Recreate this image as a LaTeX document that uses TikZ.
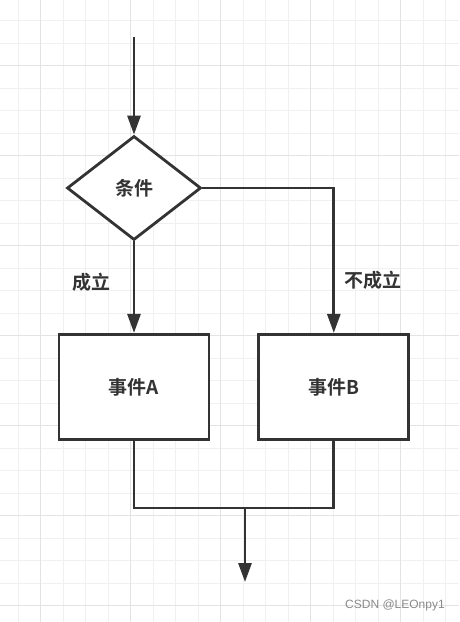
\documentclass[tikz,border=0pt]{standalone}
\usepackage{fontspec}
\setmainfont{Noto Sans CJK SC}[BoldFont={Noto Sans CJK SC Bold}]
\newfontfamily\markfont{Liberation Sans}
\usetikzlibrary{shapes.geometric, arrows.meta, positioning}

\definecolor{ink}{HTML}{333333}
\definecolor{minorline}{HTML}{F0F0F0}
\definecolor{majorline}{HTML}{E3E3E3}
\definecolor{markgray}{HTML}{8A8A8A}

\tikzset{
	decision/.style={diamond, draw=ink, line width=2.8pt, fill=white, aspect=1.29,
		minimum width=134pt, minimum height=104pt, inner sep=0pt,
		text=ink, font=\fontsize{19}{22}\selectfont\bfseries},
	event/.style={rectangle, draw=ink, line width=2.8pt, fill=white,
		minimum width=150pt, minimum height=105pt, inner sep=0pt,
		text=ink, font=\fontsize{19}{22}\selectfont\bfseries},
	line/.style={draw=ink, line width=2.8pt},
	flow/.style={line, -{Triangle[length=19pt, width=13pt]}},
	tag/.style={text=ink, font=\fontsize{19}{22}\selectfont\bfseries, inner sep=0pt}
}

\begin{document}
\begin{tikzpicture}[x=1pt, y=-1pt]
		
		\useasboundingbox (0,0) rectangle (459,622);
		\fill[white] (0,0) rectangle (459,622);
		
		% grid
		\foreach \x in {18.2,40.7,...,459} \draw[minorline, line width=1.2pt] (\x,0) -- (\x,622);
		\foreach \y in {20.7,43.2,...,622} \draw[minorline, line width=1.2pt] (0,\y) -- (459,\y);
		\foreach \x in {40.7,130.7,...,459} \draw[majorline, line width=1.4pt] (\x,0) -- (\x,622);
		\foreach \y in {65.7,155.7,...,622} \draw[majorline, line width=1.4pt] (0,\y) -- (459,\y);
		
		\coordinate (start) at (134,37);
		\node[decision] (cond) at (134,188) {条件};
		\node[event, below=91.5pt of cond] (A) {事件A};
		\node[event, right=47pt of A] (B) {事件B};
		\coordinate (merge) at (245,508);
		\coordinate (end) at (245,582);
		
		\draw[flow] (start) -- (cond.north);
		\draw[flow] (cond.south) -- node[tag, pos=0.45, left=22pt] (yes) {成立} (A.north);
		\draw[flow] (cond.east) -| node[tag, pos=0.82, right=9pt] (no) {不成立} (B.north);
		\draw[line] (A.south) |- (merge) -| (B.south);
		\draw[flow] (merge) -- (end);
		
		\node[text=markgray, font=\markfont\fontsize{12}{14}\selectfont] (mark) at (395,605) {CSDN @LEOnpy1};
		
\end{tikzpicture}
\end{document}
